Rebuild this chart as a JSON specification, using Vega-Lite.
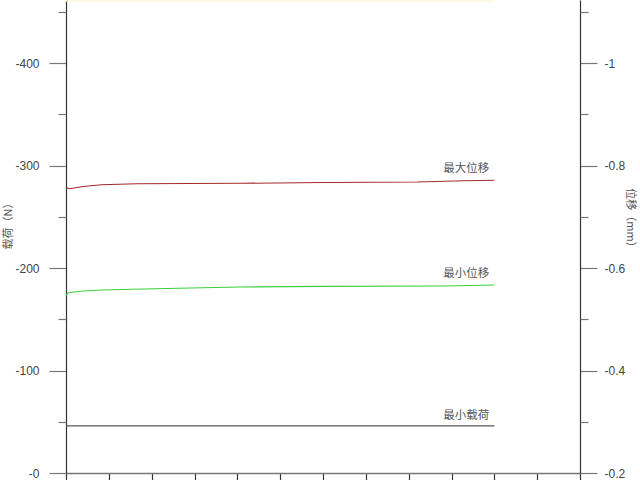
{
  "$schema": "https://vega.github.io/schema/vega-lite/v6.json",
  "width": 514,
  "height": 473,
  "autosize": {"type": "none"},
  "padding": {"left": 66, "top": 0, "right": 60, "bottom": 7},
  "background": "white",
  "config": {
    "view": {"stroke": null},
    "axis": {
      "labelFont": "Liberation Sans",
      "labelFontSize": 12,
      "labelColor": "#444",
      "titleFont": "Noto Sans CJK SC",
      "titleFontSize": 11,
      "titleFontWeight": "normal",
      "titleColor": "#555",
      "domainColor": "#333",
      "domainWidth": 1.2,
      "tickColor": "#777",
      "tickWidth": 1.2,
      "grid": false
    }
  },
  "datasets": {
    "curves": [
      {"series": "最小载荷", "x": 0, "value": -46},
      {"series": "最小载荷", "x": 10, "value": -46},
      {"series": "最大载荷", "x": 0, "value": -460.5},
      {"series": "最大载荷", "x": 10, "value": -460.5},
      {"series": "最大位移", "x": 0, "value": -0.7567},
      {"series": "最大位移", "x": 0.09, "value": -0.7548},
      {"series": "最大位移", "x": 0.4, "value": -0.759},
      {"series": "最大位移", "x": 0.83, "value": -0.7626},
      {"series": "最大位移", "x": 1.65, "value": -0.7645},
      {"series": "最大位移", "x": 4.07, "value": -0.7653},
      {"series": "最大位移", "x": 6.0, "value": -0.7668},
      {"series": "最大位移", "x": 8.2, "value": -0.7678},
      {"series": "最大位移", "x": 9.28, "value": -0.7703},
      {"series": "最大位移", "x": 10, "value": -0.7712},
      {"series": "最小位移", "x": 0, "value": -0.546},
      {"series": "最小位移", "x": 0.05, "value": -0.5518},
      {"series": "最小位移", "x": 0.33, "value": -0.5546},
      {"series": "最小位移", "x": 0.83, "value": -0.557},
      {"series": "最小位移", "x": 1.8, "value": -0.559},
      {"series": "最小位移", "x": 3.2, "value": -0.5616},
      {"series": "最小位移", "x": 4.07, "value": -0.563},
      {"series": "最小位移", "x": 6.0, "value": -0.5642},
      {"series": "最小位移", "x": 8.8, "value": -0.5649},
      {"series": "最小位移", "x": 10, "value": -0.5668}
    ],
    "labels": [
      {"series": "最小载荷", "x": 10, "value": -46},
      {"series": "最大位移", "x": 10, "value": -0.7712},
      {"series": "最小位移", "x": 10, "value": -0.5668}
    ]
  },
  "encoding": {
    "x": {
      "field": "x",
      "type": "quantitative",
      "scale": {"domain": [0, 12], "nice": false},
      "axis": {
        "values": [0, 1, 2, 3, 4, 5, 6, 7, 8, 9, 10, 11, 12],
        "labels": false,
        "tickSize": 10,
        "title": null,
        "tickColor": "#333",
        "domainColor": "#777",
        "domainWidth": 1.5
      }
    }
  },
  "layer": [
    {
      "layer": [
        {
          "data": {"name": "curves"},
          "transform": [{"filter": "datum.series == '最小载荷'"}],
          "mark": {"type": "line", "color": "#555", "strokeWidth": 1.3}
        },
        {
          "data": {"name": "labels"},
          "transform": [{"filter": "datum.series == '最小载荷'"}],
          "mark": {"type": "text", "align": "right", "baseline": "bottom", "dx": -5, "dy": -5, "font": "Noto Sans CJK SC", "fontSize": 11.5, "color": "#555"},
          "encoding": {"text": {"field": "series"}}
        }
      ],
      "encoding": {
        "y": {
          "field": "value",
          "type": "quantitative",
          "scale": {"domain": [0, -461.5], "nice": false, "zero": false},
          "axis": {
            "orient": "left",
            "values": [0, -100, -200, -300, -400],
            "labelExpr": "'-' + abs(datum.value)",
            "tickSize": 17,
            "labelPadding": 10,
            "title": "载荷（N）",
            "titleAngle": -90,
            "titleX": -58,
            "titleY": 223,
            "titleAlign": "center",
            "titleBaseline": "middle"
          }
        }
      }
    },
    {
      "data": {"name": "curves"},
      "transform": [{"filter": "datum.series == '最大载荷'"}],
      "mark": {"type": "line", "color": "#fbf8dc", "strokeWidth": 1.5},
      "encoding": {
        "y": {
          "field": "value",
          "type": "quantitative",
          "scale": {"domain": [0, -461.5], "nice": false, "zero": false},
          "axis": {
            "orient": "left",
            "values": [-50, -150, -250, -350, -450],
            "labels": false,
            "domain": false,
            "tickSize": 8,
            "title": null
          }
        }
      }
    },
    {
      "layer": [
        {
          "data": {"name": "curves"},
          "transform": [{"filter": "datum.series == '最大位移'"}],
          "mark": {"type": "line", "color": "#a52a2a", "strokeWidth": 1.1}
        },
        {
          "data": {"name": "labels"},
          "transform": [{"filter": "datum.series != '最小载荷'"}],
          "mark": {"type": "text", "align": "right", "baseline": "bottom", "dx": -5, "dy": -6, "font": "Noto Sans CJK SC", "fontSize": 11.5, "color": "#555"},
          "encoding": {"text": {"field": "series"}}
        }
      ],
      "encoding": {
        "y": {
          "field": "value",
          "type": "quantitative",
          "scale": {"domain": [-0.2, -1.123], "nice": false, "zero": false},
          "axis": {
            "orient": "right",
            "values": [-0.2, -0.4, -0.6, -0.8, -1],
            "labelExpr": "'-' + abs(datum.value)",
            "tickSize": 17,
            "labelPadding": 7,
            "title": "位移（mm）",
            "titleAngle": 90,
            "titleX": 49,
            "titleY": 220,
            "titleAlign": "center",
            "titleBaseline": "middle"
          }
        }
      }
    },
    {
      "data": {"name": "curves"},
      "transform": [{"filter": "datum.series == '最小位移'"}],
      "mark": {"type": "line", "color": "#3ccf3c", "strokeWidth": 1.1},
      "encoding": {
        "y": {
          "field": "value",
          "type": "quantitative",
          "scale": {"domain": [-0.2, -1.123], "nice": false, "zero": false},
          "axis": {
            "orient": "right",
            "values": [-0.3, -0.5, -0.7, -0.9, -1.1],
            "labels": false,
            "domain": false,
            "tickSize": 8,
            "title": null
          }
        }
      }
    }
  ],
  "resolve": {"scale": {"y": "independent"}, "axis": {"y": "independent"}}
}
